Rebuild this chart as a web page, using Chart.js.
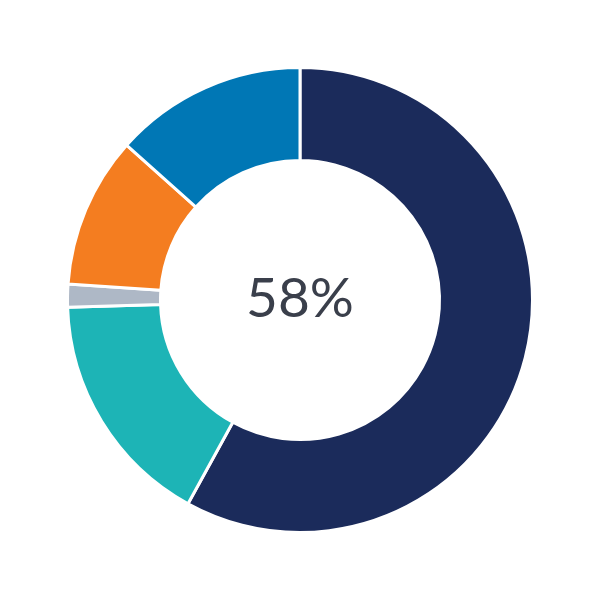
<!DOCTYPE html>
<html>
<head>
<meta charset="utf-8">
<script src="https://cdn.jsdelivr.net/npm/chart.js@4"></script>
<style>
  html, body { margin: 0; padding: 0; background: #fff; }
  #wrap { width: 600px; height: 600px; }
</style>
</head>
<body>
<div id="wrap"><canvas id="myChart"></canvas></div>
<script>
// slices clockwise from the top
var labels = ["A", "B", "C", "D", "E"];
var values = [58, 16.5, 1.6, 10.5, 13.4];
var colors = ["#1b2b5b", "#1db4b6", "#aeb8c6", "#f47d20", "#0077b5"];
var centerText = "58%";

window.onload = function () {
  // draw the big number in the hole
  var centerLabel = {
    id: "centerLabel",
    afterDraw: function (chart) {
      var ctx = chart.ctx;
      var meta = chart.getDatasetMeta(0);
      var arc = meta.data[0];
      ctx.save();
      ctx.font = "400 55px Lato";
      ctx.fillStyle = "#3a3f4b";
      ctx.textAlign = "center";
      ctx.textBaseline = "middle";
      ctx.fillText(centerText, arc.x, arc.y - 1);
      ctx.restore();
    }
  };

  var ctx = document.getElementById("myChart").getContext("2d");
  var myChart = new Chart(ctx, {
    type: "doughnut",
    data: {
      labels: labels,
      datasets: [
        {
          data: values,
          backgroundColor: colors,
          borderColor: "#ffffff",
          borderWidth: 3
        }
      ]
    },
    options: {
      responsive: true,
      maintainAspectRatio: false,
      animation: false,
      cutout: "60%",
      layout: { padding: 66 },
      plugins: {
        legend: { display: false },
        tooltip: { enabled: false }
      }
    },
    plugins: [centerLabel]
  });
};
</script>
</body>
</html>
